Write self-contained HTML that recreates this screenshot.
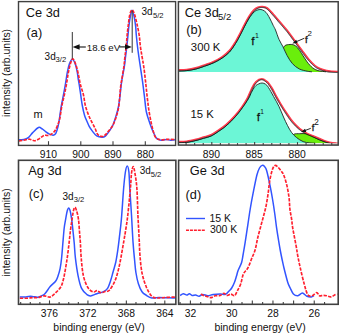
<!DOCTYPE html>
<html><head><meta charset="utf-8"><style>
html,body{margin:0;padding:0;background:#fff;}
svg{display:block;}
text{font-family:"Liberation Sans",sans-serif;fill:#111;}
</style></head><body>
<svg width="341" height="335" viewBox="0 0 341 335">
<defs>
<clipPath id="ca"><rect x="18.5" y="1.6" width="157" height="143.4"/></clipPath>
<clipPath id="cb"><rect x="178.4" y="1.7" width="159.8" height="143.4"/></clipPath>
<clipPath id="cc"><rect x="18.5" y="160.3" width="157.3" height="143.9"/></clipPath>
<clipPath id="cd"><rect x="178.6" y="160.3" width="159.6" height="143.9"/></clipPath>
</defs>
<rect width="341" height="335" fill="#fff"/>
<g clip-path="url(#cb)">
<path d="M276.00,71.80 C276.67,69.83 278.72,64.10 280.00,60.00 C281.28,55.90 282.30,49.77 283.70,47.20 C285.10,44.63 286.72,44.98 288.40,44.60 C290.08,44.22 292.23,44.33 293.80,44.90 C295.37,45.47 296.47,46.52 297.80,48.00 C299.13,49.48 300.23,51.47 301.80,53.80 C303.37,56.13 305.40,59.67 307.20,62.00 C309.00,64.33 310.80,66.37 312.60,67.80 C314.40,69.23 315.77,69.93 318.00,70.60 C320.23,71.27 324.67,71.60 326.00,71.80 L326.00,72.00 L276.00,72.00 Z" fill="#6aee0c" stroke="none"/>
<path d="M276.00,71.80 C276.67,69.83 278.72,64.10 280.00,60.00 C281.28,55.90 282.30,49.77 283.70,47.20 C285.10,44.63 286.72,44.98 288.40,44.60 C290.08,44.22 292.23,44.33 293.80,44.90 C295.37,45.47 296.47,46.52 297.80,48.00 C299.13,49.48 300.23,51.47 301.80,53.80 C303.37,56.13 305.40,59.67 307.20,62.00 C309.00,64.33 310.80,66.37 312.60,67.80 C314.40,69.23 315.77,69.93 318.00,70.60 C320.23,71.27 324.67,71.60 326.00,71.80" fill="none" stroke="#222" stroke-width="0.9"/>
<path d="M178.00,71.00 C179.47,70.93 183.87,70.92 186.80,70.60 C189.73,70.28 192.67,69.82 195.60,69.10 C198.53,68.38 201.47,67.32 204.40,66.30 C207.33,65.28 210.27,64.35 213.20,63.00 C216.13,61.65 219.28,60.03 222.00,58.20 C224.72,56.37 227.27,54.45 229.50,52.00 C231.73,49.55 233.67,46.28 235.40,43.50 C237.13,40.72 238.40,38.13 239.90,35.30 C241.40,32.47 242.90,29.30 244.40,26.50 C245.90,23.70 247.23,20.97 248.90,18.50 C250.57,16.03 252.70,13.18 254.40,11.70 C256.10,10.22 257.73,9.88 259.10,9.60 C260.47,9.32 261.43,9.52 262.60,10.00 C263.77,10.48 264.93,11.17 266.10,12.50 C267.27,13.83 268.42,15.85 269.60,18.00 C270.78,20.15 272.22,23.40 273.20,25.40 C274.18,27.40 274.53,27.67 275.50,30.00 C276.47,32.33 277.75,36.60 279.00,39.40 C280.25,42.20 281.65,44.12 283.00,46.80 C284.35,49.48 285.53,52.70 287.10,55.50 C288.67,58.30 290.38,61.37 292.40,63.60 C294.42,65.83 296.73,67.63 299.20,68.90 C301.67,70.17 305.07,70.72 307.20,71.20 C309.33,71.68 311.20,71.70 312.00,71.80 L312.00,72.00 L178.00,72.00 Z" fill="#6cf6d6" stroke="none"/>
<path d="M178.00,71.00 C179.47,70.93 183.87,70.92 186.80,70.60 C189.73,70.28 192.67,69.82 195.60,69.10 C198.53,68.38 201.47,67.32 204.40,66.30 C207.33,65.28 210.27,64.35 213.20,63.00 C216.13,61.65 219.28,60.03 222.00,58.20 C224.72,56.37 227.27,54.45 229.50,52.00 C231.73,49.55 233.67,46.28 235.40,43.50 C237.13,40.72 238.40,38.13 239.90,35.30 C241.40,32.47 242.90,29.30 244.40,26.50 C245.90,23.70 247.23,20.97 248.90,18.50 C250.57,16.03 252.70,13.18 254.40,11.70 C256.10,10.22 257.73,9.88 259.10,9.60 C260.47,9.32 261.43,9.52 262.60,10.00 C263.77,10.48 264.93,11.17 266.10,12.50 C267.27,13.83 268.42,15.85 269.60,18.00 C270.78,20.15 272.22,23.40 273.20,25.40 C274.18,27.40 274.53,27.67 275.50,30.00 C276.47,32.33 277.75,36.60 279.00,39.40 C280.25,42.20 281.65,44.12 283.00,46.80 C284.35,49.48 285.53,52.70 287.10,55.50 C288.67,58.30 290.38,61.37 292.40,63.60 C294.42,65.83 296.73,67.63 299.20,68.90 C301.67,70.17 305.07,70.72 307.20,71.20 C309.33,71.68 311.20,71.70 312.00,71.80" fill="none" stroke="#222" stroke-width="0.9"/>
<path d="M178.00,69.90 C179.47,69.83 183.87,69.83 186.80,69.50 C189.73,69.17 192.67,68.65 195.60,67.90 C198.53,67.15 201.47,66.03 204.40,65.00 C207.33,63.97 210.27,63.07 213.20,61.70 C216.13,60.33 219.28,58.70 222.00,56.80 C224.72,54.90 227.27,52.80 229.50,50.30 C231.73,47.80 233.67,44.58 235.40,41.80 C237.13,39.02 238.40,36.47 239.90,33.60 C241.40,30.73 242.90,27.47 244.40,24.60 C245.90,21.73 247.40,18.77 248.90,16.40 C250.40,14.03 251.92,11.92 253.40,10.40 C254.88,8.88 256.28,7.95 257.80,7.30 C259.32,6.65 260.92,6.38 262.50,6.50 C264.08,6.62 265.52,6.75 267.30,8.00 C269.08,9.25 271.25,11.87 273.20,14.00 C275.15,16.13 277.20,18.70 279.00,20.80 C280.80,22.90 282.42,24.73 284.00,26.60 C285.58,28.47 286.67,29.63 288.50,32.00 C290.33,34.37 292.78,37.80 295.00,40.80 C297.22,43.80 299.53,46.97 301.80,50.00 C304.07,53.03 306.40,56.42 308.60,59.00 C310.80,61.58 313.10,63.92 315.00,65.50 C316.90,67.08 318.07,67.65 320.00,68.50 C321.93,69.35 324.60,70.13 326.60,70.60 C328.60,71.07 330.10,71.15 332.00,71.30 C333.90,71.45 337.00,71.47 338.00,71.50" fill="none" stroke="#ff3a4c" stroke-width="1.6"/>
<path d="M178.04,70.90 L178.17,70.89 L178.31,70.89 L178.47,70.88 L178.64,70.88 L178.82,70.87 L179.01,70.87 L179.22,70.86 L179.44,70.86 L179.66,70.85 L179.90,70.85 L180.14,70.84 L180.39,70.84 L180.65,70.83 L180.91,70.83 L181.18,70.82 L181.46,70.81 L181.74,70.80 L182.02,70.80 L182.31,70.79 L182.60,70.78 L182.90,70.76 L183.19,70.75 L183.49,70.74 L183.78,70.73 L184.08,70.71 L184.38,70.70 L184.67,70.68 L184.96,70.66 L185.25,70.64 L185.54,70.62 L185.83,70.60 L186.10,70.57 L186.38,70.55 L186.65,70.52 L186.91,70.49 L187.17,70.46 L187.42,70.43 L187.68,70.40 L187.93,70.37 L188.19,70.34 L188.44,70.30 L188.70,70.27 L188.95,70.23 L189.21,70.20 L189.46,70.16 L189.72,70.12 L189.97,70.08 L190.23,70.04 L190.48,70.00 L190.74,69.95 L190.99,69.91 L191.25,69.86 L191.51,69.82 L191.76,69.77 L192.02,69.72 L192.27,69.67 L192.53,69.62 L192.78,69.57 L193.04,69.52 L193.29,69.47 L193.55,69.41 L193.80,69.35 L194.06,69.30 L194.31,69.24 L194.57,69.18 L194.83,69.12 L195.08,69.06 L195.34,69.00 L195.59,68.93 L195.85,68.87 L196.09,68.81 L196.34,68.74 L196.58,68.67 L196.82,68.61 L197.06,68.54 L197.31,68.47 L197.55,68.40 L197.79,68.32 L198.03,68.25 L198.28,68.18 L198.52,68.10 L198.76,68.02 L199.00,67.94 L199.24,67.87 L199.48,67.79 L199.72,67.71 L199.96,67.62 L200.20,67.54 L200.44,67.46 L200.68,67.38 L200.92,67.30 L201.16,67.21 L201.40,67.13 L201.64,67.04 L201.88,66.96 L202.12,66.87 L202.36,66.79 L202.60,66.70 L202.83,66.62 L203.07,66.53 L203.31,66.45 L203.55,66.36 L203.78,66.28 L204.02,66.19 L204.26,66.11 L204.50,66.03 L204.73,65.94 L204.97,65.86 L205.20,65.78 L205.44,65.70 L205.68,65.61 L205.91,65.53 L206.15,65.45 L206.39,65.37 L206.63,65.29 L206.86,65.21 L207.10,65.13 L207.34,65.04 L207.58,64.96 L207.82,64.88 L208.06,64.80 L208.30,64.71 L208.54,64.63 L208.78,64.54 L209.02,64.46 L209.26,64.37 L209.50,64.29 L209.74,64.20 L209.98,64.11 L210.22,64.02 L210.46,63.93 L210.70,63.84 L210.95,63.74 L211.19,63.65 L211.43,63.55 L211.67,63.45 L211.92,63.35 L212.16,63.25 L212.40,63.15 L212.65,63.04 L212.89,62.94 L213.13,62.83 L213.38,62.72 L213.62,62.61 L213.84,62.50 L214.07,62.40 L214.29,62.29 L214.52,62.18 L214.74,62.08 L214.97,61.97 L215.20,61.86 L215.42,61.75 L215.65,61.63 L215.88,61.52 L216.11,61.41 L216.33,61.29 L216.56,61.17 L216.79,61.06 L217.02,60.94 L217.25,60.82 L217.48,60.70 L217.70,60.57 L217.93,60.45 L218.16,60.33 L218.39,60.20 L218.62,60.08 L218.84,59.95 L219.07,59.82 L219.29,59.69 L219.52,59.56 L219.74,59.43 L219.97,59.30 L220.19,59.16 L220.41,59.03 L220.63,58.89 L220.85,58.76 L221.07,58.62 L221.29,58.48 L221.51,58.34 L221.72,58.20 L221.94,58.05 L222.15,57.91 L222.36,57.77 L222.57,57.62 L222.78,57.47 L223.00,57.32 L223.21,57.17 L223.42,57.02 L223.63,56.87 L223.84,56.71 L224.04,56.56 L224.25,56.40 L224.46,56.25 L224.66,56.09 L224.87,55.93 L225.07,55.77 L225.28,55.61 L225.48,55.45 L225.68,55.28 L225.88,55.12 L226.08,54.95 L226.28,54.79 L226.48,54.62 L226.68,54.45 L226.88,54.28 L227.07,54.11 L227.27,53.93 L227.46,53.76 L227.66,53.58 L227.85,53.41 L228.04,53.23 L228.23,53.05 L228.42,52.87 L228.61,52.68 L228.79,52.50 L228.98,52.31 L229.16,52.13 L229.35,51.94 L229.53,51.75 L229.71,51.55 L229.89,51.36 L230.07,51.16 L230.25,50.97 L230.42,50.77 L230.58,50.58 L230.75,50.38 L230.92,50.19 L231.08,49.99 L231.24,49.78 L231.40,49.58 L231.56,49.38 L231.72,49.17 L231.88,48.96 L232.04,48.75 L232.19,48.54 L232.35,48.33 L232.50,48.12 L232.65,47.90 L232.80,47.69 L232.95,47.47 L233.10,47.26 L233.25,47.04 L233.40,46.82 L233.54,46.60 L233.69,46.39 L233.83,46.17 L233.97,45.95 L234.11,45.73 L234.25,45.51 L234.39,45.30 L234.53,45.08 L234.67,44.86 L234.81,44.64 L234.94,44.43 L235.08,44.21 L235.21,44.00 L235.34,43.79 L235.48,43.57 L235.61,43.36 L235.74,43.15 L235.87,42.94 L235.99,42.74 L236.12,42.53 L236.25,42.33 L236.39,42.10 L236.53,41.87 L236.67,41.64 L236.80,41.42 L236.94,41.19 L237.07,40.97 L237.20,40.75 L237.33,40.52 L237.46,40.30 L237.59,40.08 L237.71,39.86 L237.84,39.63 L237.96,39.41 L238.08,39.19 L238.20,38.97 L238.32,38.75 L238.44,38.53 L238.56,38.31 L238.68,38.09 L238.79,37.87 L238.91,37.65 L239.03,37.43 L239.14,37.21 L239.26,36.99 L239.38,36.77 L239.49,36.55 L239.61,36.33 L239.72,36.11 L239.84,35.88 L239.96,35.66 L240.07,35.43 L240.19,35.21 L240.31,34.98 L240.43,34.75 L240.55,34.52 L240.67,34.29 L240.79,34.06 L240.90,33.85 L241.01,33.63 L241.13,33.41 L241.24,33.18 L241.35,32.96 L241.47,32.74 L241.58,32.51 L241.69,32.29 L241.81,32.06 L241.92,31.83 L242.03,31.61 L242.15,31.38 L242.26,31.15 L242.37,30.92 L242.49,30.69 L242.60,30.46 L242.71,30.23 L242.82,30.00 L242.94,29.77 L243.05,29.54 L243.16,29.31 L243.27,29.08 L243.39,28.85 L243.50,28.62 L243.61,28.39 L243.72,28.16 L243.83,27.94 L243.95,27.71 L244.06,27.48 L244.17,27.26 L244.28,27.03 L244.39,26.81 L244.51,26.59 L244.62,26.37 L244.73,26.15 L244.84,25.93 L244.95,25.71 L245.06,25.49 L245.17,25.28 L245.29,25.06 L245.41,24.83 L245.53,24.60 L245.65,24.36 L245.77,24.13 L245.90,23.90 L246.02,23.66 L246.14,23.43 L246.26,23.20 L246.38,22.96 L246.50,22.73 L246.62,22.50 L246.74,22.27 L246.87,22.04 L246.99,21.81 L247.11,21.58 L247.23,21.35 L247.35,21.12 L247.47,20.90 L247.59,20.67 L247.71,20.45 L247.83,20.23 L247.95,20.01 L248.07,19.79 L248.19,19.57 L248.31,19.36 L248.43,19.14 L248.55,18.93 L248.67,18.72 L248.79,18.51 L248.91,18.31 L249.03,18.10 L249.15,17.90 L249.27,17.70 L249.39,17.51 L249.51,17.31 L249.63,17.12 L249.74,16.93 L249.90,16.69 L250.05,16.46 L250.20,16.22 L250.36,15.98 L250.51,15.75 L250.66,15.52 L250.82,15.30 L250.97,15.07 L251.12,14.85 L251.28,14.63 L251.43,14.41 L251.58,14.20 L251.73,13.99 L251.88,13.78 L252.04,13.57 L252.19,13.37 L252.34,13.18 L252.49,12.98 L252.64,12.79 L252.79,12.60 L252.94,12.42 L253.09,12.24 L253.24,12.06 L253.38,11.89 L253.53,11.73 L253.68,11.56 L253.82,11.40 L253.97,11.25 L254.11,11.10 L254.31,10.90 L254.51,10.70 L254.71,10.52 L254.91,10.34 L255.10,10.17 L255.30,10.00 L255.49,9.85 L255.68,9.70 L255.87,9.55 L256.06,9.41 L256.25,9.28 L256.45,9.15 L256.64,9.03 L256.83,8.91 L257.02,8.80 L257.21,8.69 L257.41,8.59 L257.60,8.49 L257.80,8.40 L257.99,8.31 L258.19,8.22 L258.41,8.13 L258.63,8.04 L258.85,7.97 L259.07,7.89 L259.29,7.83 L259.51,7.77 L259.73,7.71 L259.96,7.66 L260.18,7.62 L260.40,7.58 L260.63,7.55 L260.85,7.52 L261.08,7.50 L261.30,7.49 L261.53,7.48 L261.75,7.47 L261.98,7.48 L262.20,7.48 L262.44,7.50 L262.66,7.51 L262.88,7.53 L263.11,7.55 L263.33,7.57 L263.54,7.60 L263.75,7.63 L263.96,7.66 L264.16,7.70 L264.37,7.74 L264.57,7.79 L264.77,7.85 L264.98,7.91 L265.18,7.99 L265.39,8.07 L265.60,8.16 L265.81,8.27 L266.03,8.38 L266.26,8.51 L266.49,8.66 L266.73,8.83 L266.88,8.93 L267.02,9.03 L267.17,9.15 L267.33,9.28 L267.48,9.41 L267.64,9.56 L267.81,9.70 L267.97,9.86 L268.14,10.01 L268.31,10.18 L268.49,10.35 L268.66,10.52 L268.83,10.70 L269.01,10.88 L269.19,11.07 L269.37,11.26 L269.55,11.45 L269.73,11.64 L269.91,11.84 L270.09,12.04 L270.27,12.24 L270.46,12.44 L270.64,12.65 L270.82,12.85 L271.01,13.06 L271.19,13.26 L271.37,13.47 L271.56,13.67 L271.74,13.87 L271.92,14.08 L272.10,14.28 L272.28,14.48 L272.46,14.67 L272.63,14.85 L272.79,15.04 L272.96,15.22 L273.12,15.41 L273.29,15.60 L273.46,15.79 L273.62,15.98 L273.79,16.17 L273.96,16.37 L274.13,16.56 L274.30,16.76 L274.47,16.96 L274.63,17.16 L274.80,17.36 L274.97,17.56 L275.14,17.75 L275.31,17.95 L275.47,18.15 L275.64,18.35 L275.81,18.55 L275.97,18.75 L276.14,18.95 L276.31,19.15 L276.47,19.35 L276.64,19.55 L276.80,19.74 L276.96,19.94 L277.13,20.13 L277.29,20.33 L277.45,20.52 L277.61,20.71 L277.77,20.90 L277.93,21.08 L278.08,21.27 L278.24,21.45 L278.42,21.66 L278.60,21.87 L278.78,22.07 L278.95,22.28 L279.13,22.48 L279.30,22.68 L279.48,22.88 L279.65,23.08 L279.82,23.28 L279.99,23.48 L280.16,23.67 L280.33,23.87 L280.49,24.06 L280.66,24.25 L280.83,24.44 L280.99,24.63 L281.15,24.82 L281.32,25.01 L281.48,25.20 L281.64,25.39 L281.80,25.57 L281.97,25.76 L282.13,25.95 L282.29,26.13 L282.45,26.32 L282.60,26.50 L282.76,26.69 L282.92,26.88 L283.08,27.06 L283.24,27.25 L283.41,27.45 L283.57,27.64 L283.73,27.83 L283.89,28.01 L284.05,28.20 L284.20,28.38 L284.36,28.55 L284.51,28.73 L284.66,28.90 L284.80,29.07 L284.95,29.24 L285.10,29.41 L285.25,29.59 L285.39,29.76 L285.54,29.94 L285.69,30.11 L285.84,30.29 L286.00,30.48 L286.15,30.66 L286.31,30.86 L286.47,31.05 L286.63,31.25 L286.80,31.46 L286.97,31.68 L287.15,31.90 L287.33,32.13 L287.52,32.37 L287.71,32.61 L287.84,32.78 L287.97,32.95 L288.10,33.12 L288.23,33.29 L288.37,33.47 L288.50,33.65 L288.64,33.84 L288.78,34.02 L288.92,34.21 L289.07,34.40 L289.21,34.60 L289.36,34.79 L289.50,34.99 L289.65,35.19 L289.80,35.40 L289.95,35.60 L290.11,35.81 L290.26,36.01 L290.41,36.22 L290.57,36.43 L290.72,36.65 L290.88,36.86 L291.03,37.07 L291.19,37.29 L291.35,37.50 L291.51,37.72 L291.66,37.94 L291.82,38.16 L291.98,38.37 L292.14,38.59 L292.30,38.81 L292.46,39.03 L292.62,39.25 L292.78,39.46 L292.94,39.68 L293.10,39.90 L293.25,40.11 L293.41,40.33 L293.57,40.54 L293.73,40.76 L293.88,40.97 L294.04,41.18 L294.20,41.39 L294.34,41.59 L294.49,41.79 L294.64,42.00 L294.79,42.20 L294.94,42.40 L295.09,42.60 L295.24,42.80 L295.39,43.01 L295.54,43.21 L295.69,43.41 L295.84,43.62 L295.99,43.82 L296.14,44.03 L296.29,44.23 L296.44,44.44 L296.59,44.64 L296.74,44.85 L296.89,45.05 L297.04,45.26 L297.20,45.47 L297.35,45.67 L297.50,45.88 L297.65,46.08 L297.80,46.29 L297.96,46.50 L298.11,46.70 L298.26,46.91 L298.41,47.12 L298.57,47.32 L298.72,47.53 L298.87,47.73 L299.02,47.94 L299.18,48.15 L299.33,48.35 L299.48,48.56 L299.63,48.76 L299.78,48.97 L299.94,49.17 L300.09,49.38 L300.24,49.58 L300.39,49.79 L300.54,49.99 L300.70,50.19 L300.85,50.40 L301.00,50.60 L301.15,50.80 L301.30,51.00 L301.45,51.21 L301.60,51.41 L301.75,51.62 L301.90,51.82 L302.06,52.03 L302.21,52.24 L302.36,52.44 L302.51,52.65 L302.66,52.86 L302.82,53.07 L302.97,53.28 L303.12,53.49 L303.27,53.70 L303.43,53.91 L303.58,54.12 L303.73,54.32 L303.88,54.53 L304.04,54.74 L304.19,54.95 L304.34,55.16 L304.50,55.37 L304.65,55.57 L304.80,55.78 L304.96,55.98 L305.11,56.19 L305.26,56.39 L305.41,56.60 L305.57,56.80 L305.72,57.00 L305.87,57.20 L306.02,57.40 L306.18,57.59 L306.33,57.79 L306.48,57.98 L306.63,58.17 L306.78,58.36 L306.93,58.55 L307.09,58.74 L307.24,58.93 L307.39,59.11 L307.54,59.29 L307.69,59.47 L307.84,59.65 L308.02,59.87 L308.21,60.08 L308.40,60.30 L308.59,60.51 L308.77,60.72 L308.96,60.93 L309.15,61.14 L309.34,61.35 L309.52,61.56 L309.71,61.76 L309.90,61.96 L310.08,62.17 L310.27,62.36 L310.46,62.56 L310.64,62.76 L310.83,62.95 L311.02,63.14 L311.20,63.33 L311.38,63.51 L311.57,63.70 L311.75,63.88 L311.93,64.06 L312.11,64.23 L312.29,64.41 L312.47,64.58 L312.65,64.75 L312.83,64.91 L313.00,65.07 L313.18,65.23 L313.35,65.39 L313.52,65.55 L313.69,65.70 L313.86,65.84 L314.03,65.99 L314.20,66.13 L314.36,66.27 L314.61,66.48 L314.86,66.67 L315.10,66.86 L315.33,67.04 L315.56,67.21 L315.79,67.37 L316.01,67.53 L316.23,67.67 L316.45,67.81 L316.66,67.95 L316.88,68.08 L317.09,68.20 L317.31,68.32 L317.52,68.44 L317.74,68.55 L317.96,68.66 L318.18,68.77 L318.41,68.88 L318.63,68.98 L318.87,69.09 L319.10,69.20 L319.35,69.31 L319.60,69.42 L319.83,69.51 L320.06,69.61 L320.30,69.71 L320.54,69.80 L320.79,69.90 L321.04,69.99 L321.29,70.08 L321.54,70.17 L321.80,70.26 L322.06,70.35 L322.32,70.44 L322.58,70.52 L322.85,70.61 L323.11,70.69 L323.37,70.77 L323.63,70.85 L323.90,70.92 L324.16,71.00 L324.41,71.07 L324.67,71.14 L324.93,71.21 L325.18,71.28 L325.42,71.34 L325.67,71.40 L325.91,71.46 L326.14,71.52 L326.38,71.57 L326.67,71.64 L326.95,71.70 L327.24,71.76 L327.51,71.81 L327.79,71.86 L328.06,71.90 L328.32,71.94 L328.58,71.98 L328.84,72.02 L329.10,72.05 L329.35,72.08 L329.60,72.10 L329.86,72.13 L330.11,72.15 L330.36,72.17 L330.62,72.19 L330.87,72.22 L331.13,72.24 L331.39,72.26 L331.65,72.28 L331.93,72.30 L332.17,72.32 L332.44,72.33 L332.71,72.35 L332.98,72.36 L333.27,72.38 L333.56,72.39 L333.85,72.40 L334.14,72.41 L334.44,72.42 L334.73,72.43 L335.03,72.44 L335.31,72.44 L335.60,72.45 L335.87,72.46 L336.14,72.46 L336.40,72.47 L336.65,72.47 L336.89,72.48 L337.11,72.48 L337.32,72.48 L337.51,72.49 L337.68,72.49 L337.84,72.50 L337.97,72.50" fill="none" stroke="#111" stroke-width="0.95"/>
<path d="M288.00,143.20 C288.50,142.33 290.00,139.50 291.00,138.00 C292.00,136.50 292.53,134.92 294.00,134.20 C295.47,133.48 297.75,133.77 299.80,133.70 C301.85,133.63 304.12,133.32 306.30,133.80 C308.48,134.28 310.70,135.58 312.90,136.60 C315.10,137.62 317.32,139.00 319.50,139.90 C321.68,140.80 324.08,141.50 326.00,142.00 C327.92,142.50 329.33,142.70 331.00,142.90 C332.67,143.10 335.17,143.15 336.00,143.20 L336.00,143.30 L288.00,143.30 Z" fill="#6aee0c" stroke="none"/>
<path d="M288.00,143.20 C288.50,142.33 290.00,139.50 291.00,138.00 C292.00,136.50 292.53,134.92 294.00,134.20 C295.47,133.48 297.75,133.77 299.80,133.70 C301.85,133.63 304.12,133.32 306.30,133.80 C308.48,134.28 310.70,135.58 312.90,136.60 C315.10,137.62 317.32,139.00 319.50,139.90 C321.68,140.80 324.08,141.50 326.00,142.00 C327.92,142.50 329.33,142.70 331.00,142.90 C332.67,143.10 335.17,143.15 336.00,143.20" fill="none" stroke="#222" stroke-width="0.9"/>
<path d="M178.00,142.80 C179.47,142.73 183.80,142.78 186.80,142.40 C189.80,142.02 193.22,141.17 196.00,140.50 C198.78,139.83 201.00,139.13 203.50,138.40 C206.00,137.67 208.50,137.27 211.00,136.10 C213.50,134.93 216.00,133.10 218.50,131.40 C221.00,129.70 223.25,128.32 226.00,125.90 C228.75,123.48 232.33,119.90 235.00,116.90 C237.67,113.90 239.72,111.02 242.00,107.90 C244.28,104.78 247.13,100.77 248.70,98.20 C250.27,95.63 250.35,94.45 251.40,92.50 C252.45,90.55 253.82,87.92 255.00,86.50 C256.18,85.08 257.32,84.58 258.50,84.00 C259.68,83.42 260.93,82.97 262.10,83.00 C263.27,83.03 264.45,83.47 265.50,84.20 C266.55,84.93 267.05,85.35 268.40,87.40 C269.75,89.45 271.83,93.32 273.60,96.50 C275.37,99.68 277.35,103.08 279.00,106.50 C280.65,109.92 282.08,113.83 283.50,117.00 C284.92,120.17 286.15,122.92 287.50,125.50 C288.85,128.08 290.10,130.50 291.60,132.50 C293.10,134.50 294.58,135.98 296.50,137.50 C298.42,139.02 300.92,140.70 303.10,141.60 C305.28,142.50 307.62,142.63 309.60,142.90 C311.58,143.17 314.10,143.15 315.00,143.20 L315.00,143.30 L178.00,143.30 Z" fill="#6cf6d6" stroke="none"/>
<path d="M178.00,142.80 C179.47,142.73 183.80,142.78 186.80,142.40 C189.80,142.02 193.22,141.17 196.00,140.50 C198.78,139.83 201.00,139.13 203.50,138.40 C206.00,137.67 208.50,137.27 211.00,136.10 C213.50,134.93 216.00,133.10 218.50,131.40 C221.00,129.70 223.25,128.32 226.00,125.90 C228.75,123.48 232.33,119.90 235.00,116.90 C237.67,113.90 239.72,111.02 242.00,107.90 C244.28,104.78 247.13,100.77 248.70,98.20 C250.27,95.63 250.35,94.45 251.40,92.50 C252.45,90.55 253.82,87.92 255.00,86.50 C256.18,85.08 257.32,84.58 258.50,84.00 C259.68,83.42 260.93,82.97 262.10,83.00 C263.27,83.03 264.45,83.47 265.50,84.20 C266.55,84.93 267.05,85.35 268.40,87.40 C269.75,89.45 271.83,93.32 273.60,96.50 C275.37,99.68 277.35,103.08 279.00,106.50 C280.65,109.92 282.08,113.83 283.50,117.00 C284.92,120.17 286.15,122.92 287.50,125.50 C288.85,128.08 290.10,130.50 291.60,132.50 C293.10,134.50 294.58,135.98 296.50,137.50 C298.42,139.02 300.92,140.70 303.10,141.60 C305.28,142.50 307.62,142.63 309.60,142.90 C311.58,143.17 314.10,143.15 315.00,143.20" fill="none" stroke="#222" stroke-width="0.9"/>
<path d="M178.00,141.60 C179.47,141.53 183.80,141.58 186.80,141.20 C189.80,140.82 193.22,139.98 196.00,139.30 C198.78,138.62 201.00,137.85 203.50,137.10 C206.00,136.35 208.50,135.97 211.00,134.80 C213.50,133.63 216.00,131.80 218.50,130.10 C221.00,128.40 223.25,127.02 226.00,124.60 C228.75,122.18 232.33,118.60 235.00,115.60 C237.67,112.60 240.02,109.38 242.00,106.60 C243.98,103.82 245.33,101.83 246.90,98.90 C248.47,95.97 249.92,91.83 251.40,89.00 C252.88,86.17 254.08,83.62 255.80,81.90 C257.52,80.18 259.75,78.70 261.70,78.70 C263.65,78.70 265.78,80.35 267.50,81.90 C269.22,83.45 270.55,85.68 272.00,88.00 C273.45,90.32 274.63,93.00 276.20,95.80 C277.77,98.60 279.63,101.88 281.40,104.80 C283.17,107.72 285.15,110.80 286.80,113.30 C288.45,115.80 289.85,117.92 291.30,119.80 C292.75,121.68 294.08,123.13 295.50,124.60 C296.92,126.07 298.00,127.22 299.80,128.60 C301.60,129.98 304.12,131.70 306.30,132.90 C308.48,134.10 310.70,134.85 312.90,135.80 C315.10,136.75 317.32,137.70 319.50,138.60 C321.68,139.50 323.82,140.48 326.00,141.20 C328.18,141.92 330.53,142.57 332.60,142.90 C334.67,143.23 337.43,143.15 338.40,143.20" fill="none" stroke="#ff3a4c" stroke-width="1.6"/>
<path d="M178.04,142.60 L178.17,142.59 L178.31,142.59 L178.46,142.58 L178.63,142.58 L178.81,142.58 L179.00,142.57 L179.21,142.57 L179.42,142.57 L179.65,142.56 L179.88,142.56 L180.12,142.55 L180.37,142.55 L180.62,142.55 L180.89,142.54 L181.16,142.54 L181.43,142.53 L181.71,142.52 L181.99,142.51 L182.28,142.51 L182.57,142.50 L182.87,142.49 L183.16,142.48 L183.46,142.46 L183.76,142.45 L184.05,142.43 L184.35,142.42 L184.65,142.40 L184.94,142.38 L185.24,142.36 L185.53,142.34 L185.82,142.31 L186.10,142.28 L186.38,142.26 L186.66,142.23 L186.92,142.19 L187.18,142.16 L187.43,142.12 L187.68,142.09 L187.94,142.05 L188.19,142.01 L188.45,141.97 L188.71,141.92 L188.97,141.88 L189.23,141.83 L189.48,141.79 L189.74,141.74 L190.00,141.69 L190.26,141.64 L190.52,141.58 L190.79,141.53 L191.04,141.48 L191.30,141.42 L191.56,141.37 L191.82,141.31 L192.08,141.26 L192.34,141.20 L192.59,141.14 L192.85,141.08 L193.10,141.02 L193.35,140.97 L193.61,140.91 L193.86,140.85 L194.10,140.79 L194.35,140.73 L194.59,140.67 L194.84,140.61 L195.08,140.56 L195.31,140.50 L195.55,140.44 L195.78,140.38 L196.01,140.33 L196.24,140.27 L196.51,140.20 L196.78,140.14 L197.04,140.07 L197.31,140.00 L197.57,139.93 L197.82,139.86 L198.08,139.79 L198.33,139.72 L198.58,139.65 L198.82,139.58 L199.07,139.51 L199.31,139.43 L199.55,139.36 L199.79,139.29 L200.03,139.22 L200.27,139.15 L200.50,139.07 L200.74,139.00 L200.97,138.93 L201.20,138.86 L201.44,138.78 L201.67,138.71 L201.90,138.64 L202.14,138.56 L202.37,138.49 L202.60,138.42 L202.84,138.35 L203.07,138.27 L203.31,138.20 L203.55,138.13 L203.78,138.06 L204.02,137.99 L204.26,137.92 L204.49,137.86 L204.73,137.79 L204.97,137.73 L205.20,137.66 L205.44,137.60 L205.68,137.54 L205.92,137.48 L206.17,137.42 L206.41,137.36 L206.65,137.30 L206.90,137.23 L207.14,137.17 L207.39,137.10 L207.63,137.04 L207.88,136.97 L208.13,136.90 L208.38,136.83 L208.63,136.75 L208.88,136.68 L209.13,136.60 L209.38,136.51 L209.64,136.43 L209.89,136.34 L210.14,136.24 L210.40,136.15 L210.65,136.04 L210.91,135.94 L211.17,135.82 L211.42,135.71 L211.65,135.60 L211.87,135.49 L212.10,135.38 L212.32,135.26 L212.54,135.14 L212.77,135.02 L212.99,134.90 L213.21,134.77 L213.43,134.65 L213.65,134.52 L213.87,134.38 L214.09,134.25 L214.31,134.11 L214.53,133.98 L214.75,133.84 L214.97,133.70 L215.19,133.56 L215.41,133.42 L215.62,133.27 L215.84,133.13 L216.06,132.98 L216.27,132.84 L216.49,132.69 L216.71,132.54 L216.92,132.40 L217.14,132.25 L217.35,132.10 L217.57,131.95 L217.78,131.81 L218.00,131.66 L218.21,131.51 L218.42,131.36 L218.64,131.22 L218.85,131.07 L219.06,130.93 L219.26,130.79 L219.46,130.66 L219.66,130.52 L219.86,130.39 L220.06,130.26 L220.26,130.12 L220.45,129.99 L220.65,129.86 L220.85,129.73 L221.05,129.59 L221.24,129.46 L221.44,129.33 L221.64,129.19 L221.84,129.06 L222.03,128.92 L222.23,128.79 L222.43,128.65 L222.63,128.51 L222.83,128.36 L223.04,128.22 L223.24,128.08 L223.44,127.93 L223.65,127.78 L223.85,127.62 L224.06,127.47 L224.27,127.31 L224.48,127.15 L224.69,126.99 L224.90,126.82 L225.11,126.65 L225.33,126.48 L225.55,126.30 L225.77,126.12 L225.99,125.93 L226.21,125.74 L226.43,125.55 L226.66,125.35 L226.83,125.20 L227.00,125.05 L227.17,124.90 L227.35,124.74 L227.52,124.58 L227.70,124.42 L227.88,124.26 L228.06,124.09 L228.24,123.92 L228.42,123.75 L228.60,123.58 L228.79,123.41 L228.97,123.23 L229.16,123.06 L229.34,122.88 L229.53,122.70 L229.72,122.52 L229.91,122.34 L230.10,122.15 L230.29,121.97 L230.48,121.78 L230.67,121.59 L230.86,121.40 L231.05,121.22 L231.24,121.03 L231.43,120.84 L231.62,120.64 L231.81,120.45 L232.00,120.26 L232.19,120.07 L232.37,119.87 L232.56,119.68 L232.75,119.49 L232.94,119.30 L233.12,119.10 L233.31,118.91 L233.49,118.72 L233.67,118.52 L233.85,118.33 L234.03,118.14 L234.21,117.95 L234.39,117.76 L234.57,117.57 L234.74,117.38 L234.91,117.19 L235.08,117.00 L235.25,116.82 L235.42,116.63 L235.58,116.45 L235.75,116.26 L235.93,116.06 L236.11,115.86 L236.28,115.65 L236.46,115.45 L236.64,115.24 L236.81,115.04 L236.99,114.83 L237.16,114.62 L237.33,114.42 L237.50,114.21 L237.67,114.00 L237.84,113.80 L238.01,113.59 L238.18,113.38 L238.34,113.18 L238.51,112.97 L238.67,112.76 L238.83,112.55 L238.99,112.35 L239.15,112.14 L239.31,111.94 L239.47,111.73 L239.63,111.52 L239.79,111.32 L239.94,111.11 L240.09,110.91 L240.25,110.71 L240.40,110.50 L240.55,110.30 L240.70,110.10 L240.85,109.90 L241.00,109.70 L241.14,109.50 L241.29,109.30 L241.43,109.10 L241.58,108.90 L241.72,108.71 L241.86,108.51 L242.00,108.32 L242.14,108.13 L242.27,107.93 L242.41,107.74 L242.55,107.56 L242.68,107.37 L242.81,107.18 L242.98,106.95 L243.14,106.72 L243.30,106.50 L243.46,106.28 L243.61,106.06 L243.76,105.84 L243.91,105.63 L244.06,105.41 L244.21,105.20 L244.35,104.99 L244.49,104.79 L244.63,104.58 L244.77,104.37 L244.91,104.17 L245.04,103.96 L245.18,103.76 L245.31,103.55 L245.45,103.35 L245.58,103.14 L245.71,102.94 L245.84,102.73 L245.97,102.52 L246.10,102.31 L246.23,102.10 L246.36,101.89 L246.49,101.67 L246.61,101.46 L246.74,101.24 L246.87,101.02 L247.00,100.79 L247.13,100.56 L247.26,100.33 L247.39,100.10 L247.52,99.86 L247.65,99.62 L247.78,99.37 L247.90,99.16 L248.01,98.94 L248.12,98.72 L248.23,98.49 L248.34,98.27 L248.45,98.04 L248.56,97.81 L248.67,97.58 L248.78,97.34 L248.89,97.10 L248.99,96.86 L249.10,96.62 L249.21,96.38 L249.31,96.14 L249.42,95.90 L249.53,95.65 L249.63,95.41 L249.74,95.16 L249.84,94.92 L249.95,94.67 L250.05,94.43 L250.15,94.18 L250.26,93.94 L250.36,93.69 L250.46,93.45 L250.57,93.21 L250.67,92.97 L250.77,92.73 L250.87,92.49 L250.98,92.26 L251.08,92.02 L251.18,91.79 L251.28,91.56 L251.38,91.34 L251.48,91.12 L251.59,90.90 L251.69,90.68 L251.79,90.47 L251.89,90.26 L251.99,90.05 L252.09,89.85 L252.19,89.66 L252.29,89.46 L252.42,89.20 L252.55,88.95 L252.69,88.69 L252.82,88.44 L252.95,88.19 L253.07,87.95 L253.20,87.70 L253.33,87.46 L253.45,87.22 L253.58,86.99 L253.70,86.75 L253.82,86.52 L253.95,86.30 L254.07,86.08 L254.19,85.86 L254.32,85.64 L254.44,85.43 L254.56,85.22 L254.69,85.02 L254.81,84.81 L254.93,84.62 L255.06,84.43 L255.19,84.24 L255.31,84.05 L255.44,83.87 L255.57,83.70 L255.70,83.53 L255.83,83.36 L255.96,83.20 L256.10,83.05 L256.23,82.90 L256.37,82.75 L256.51,82.61 L256.69,82.42 L256.89,82.24 L257.08,82.06 L257.28,81.88 L257.48,81.71 L257.69,81.54 L257.90,81.38 L258.10,81.22 L258.31,81.07 L258.53,80.92 L258.74,80.78 L258.95,80.65 L259.16,80.52 L259.37,80.41 L259.58,80.30 L259.79,80.19 L260.00,80.10 L260.20,80.02 L260.41,79.94 L260.60,79.88 L260.80,79.82 L260.99,79.78 L261.17,79.74 L261.35,79.72 L261.53,79.71 L261.70,79.70 L261.86,79.71 L262.03,79.72 L262.21,79.75 L262.38,79.78 L262.57,79.83 L262.76,79.89 L262.95,79.96 L263.15,80.04 L263.35,80.13 L263.55,80.23 L263.75,80.33 L263.96,80.45 L264.17,80.57 L264.38,80.70 L264.58,80.84 L264.79,80.99 L265.00,81.14 L265.21,81.29 L265.42,81.45 L265.63,81.61 L265.83,81.78 L266.04,81.95 L266.24,82.12 L266.44,82.29 L266.63,82.47 L266.83,82.64 L266.98,82.78 L267.14,82.93 L267.29,83.08 L267.44,83.24 L267.59,83.40 L267.74,83.57 L267.88,83.74 L268.03,83.91 L268.18,84.09 L268.32,84.27 L268.46,84.46 L268.61,84.65 L268.75,84.84 L268.89,85.04 L269.03,85.24 L269.17,85.44 L269.31,85.64 L269.45,85.85 L269.59,86.07 L269.73,86.28 L269.87,86.50 L270.01,86.71 L270.15,86.94 L270.29,87.16 L270.44,87.38 L270.58,87.61 L270.72,87.84 L270.86,88.07 L271.01,88.30 L271.15,88.53 L271.27,88.72 L271.39,88.92 L271.51,89.11 L271.62,89.31 L271.74,89.51 L271.86,89.72 L271.97,89.92 L272.08,90.13 L272.20,90.33 L272.31,90.54 L272.43,90.76 L272.54,90.97 L272.65,91.19 L272.77,91.40 L272.88,91.62 L273.00,91.84 L273.11,92.06 L273.22,92.29 L273.34,92.51 L273.46,92.74 L273.57,92.97 L273.69,93.20 L273.81,93.43 L273.93,93.66 L274.05,93.89 L274.17,94.13 L274.29,94.36 L274.42,94.60 L274.54,94.84 L274.67,95.08 L274.80,95.32 L274.93,95.56 L275.06,95.80 L275.19,96.04 L275.33,96.29 L275.44,96.49 L275.56,96.70 L275.68,96.91 L275.79,97.12 L275.91,97.33 L276.03,97.55 L276.16,97.76 L276.28,97.98 L276.40,98.20 L276.52,98.42 L276.65,98.63 L276.77,98.85 L276.90,99.08 L277.02,99.30 L277.15,99.52 L277.28,99.74 L277.41,99.97 L277.54,100.19 L277.66,100.42 L277.79,100.64 L277.92,100.87 L278.05,101.09 L278.18,101.32 L278.31,101.54 L278.44,101.77 L278.58,102.00 L278.71,102.22 L278.84,102.45 L278.97,102.67 L279.10,102.90 L279.23,103.12 L279.37,103.34 L279.50,103.57 L279.63,103.79 L279.76,104.01 L279.89,104.23 L280.02,104.45 L280.15,104.67 L280.28,104.89 L280.41,105.10 L280.54,105.32 L280.68,105.54 L280.81,105.76 L280.95,105.98 L281.08,106.20 L281.22,106.42 L281.36,106.65 L281.49,106.87 L281.63,107.09 L281.77,107.31 L281.91,107.54 L282.05,107.76 L282.19,107.98 L282.33,108.20 L282.46,108.42 L282.60,108.65 L282.74,108.87 L282.88,109.09 L283.02,109.31 L283.16,109.53 L283.30,109.74 L283.44,109.96 L283.58,110.18 L283.72,110.39 L283.85,110.61 L283.99,110.82 L284.13,111.03 L284.26,111.25 L284.40,111.46 L284.54,111.66 L284.67,111.87 L284.80,112.08 L284.94,112.28 L285.07,112.48 L285.20,112.69 L285.33,112.88 L285.46,113.08 L285.59,113.28 L285.71,113.47 L285.84,113.66 L285.97,113.85 L286.12,114.09 L286.28,114.33 L286.44,114.57 L286.59,114.80 L286.75,115.03 L286.90,115.26 L287.05,115.49 L287.20,115.72 L287.35,115.94 L287.50,116.16 L287.65,116.38 L287.79,116.60 L287.94,116.81 L288.08,117.03 L288.23,117.24 L288.37,117.45 L288.52,117.66 L288.66,117.87 L288.80,118.07 L288.94,118.28 L289.09,118.48 L289.23,118.68 L289.37,118.88 L289.51,119.07 L289.65,119.27 L289.80,119.46 L289.94,119.65 L290.08,119.85 L290.22,120.04 L290.36,120.22 L290.51,120.41 L290.68,120.64 L290.86,120.86 L291.04,121.08 L291.21,121.30 L291.38,121.51 L291.56,121.72 L291.73,121.93 L291.90,122.13 L292.07,122.34 L292.24,122.53 L292.41,122.73 L292.58,122.92 L292.75,123.11 L292.92,123.30 L293.09,123.49 L293.25,123.68 L293.42,123.86 L293.59,124.04 L293.76,124.22 L293.93,124.40 L294.10,124.58 L294.27,124.76 L294.44,124.94 L294.61,125.12 L294.78,125.29 L294.96,125.48 L295.14,125.67 L295.32,125.85 L295.50,126.04 L295.67,126.22 L295.85,126.39 L296.02,126.57 L296.19,126.75 L296.37,126.92 L296.55,127.09 L296.73,127.27 L296.91,127.44 L297.09,127.61 L297.28,127.79 L297.47,127.96 L297.66,128.14 L297.86,128.31 L298.07,128.49 L298.28,128.66 L298.50,128.84 L298.72,129.03 L298.95,129.21 L299.19,129.39 L299.37,129.53 L299.56,129.67 L299.74,129.81 L299.94,129.95 L300.13,130.10 L300.33,130.24 L300.53,130.39 L300.74,130.54 L300.95,130.68 L301.16,130.83 L301.37,130.98 L301.58,131.13 L301.80,131.28 L302.02,131.43 L302.24,131.58 L302.46,131.72 L302.69,131.87 L302.91,132.02 L303.13,132.16 L303.36,132.31 L303.58,132.45 L303.81,132.59 L304.04,132.73 L304.26,132.87 L304.49,133.01 L304.71,133.14 L304.94,133.27 L305.16,133.40 L305.38,133.53 L305.60,133.66 L305.82,133.78 L306.06,133.91 L306.31,134.04 L306.55,134.16 L306.79,134.28 L307.04,134.40 L307.28,134.52 L307.52,134.63 L307.77,134.74 L308.01,134.85 L308.25,134.96 L308.49,135.06 L308.73,135.17 L308.97,135.27 L309.21,135.37 L309.45,135.47 L309.69,135.56 L309.93,135.66 L310.16,135.76 L310.40,135.85 L310.64,135.95 L310.87,136.04 L311.11,136.14 L311.34,136.23 L311.58,136.33 L311.81,136.42 L312.04,136.52 L312.27,136.62 L312.51,136.72 L312.74,136.82 L312.98,136.92 L313.21,137.02 L313.45,137.13 L313.68,137.23 L313.92,137.33 L314.16,137.43 L314.39,137.53 L314.63,137.63 L314.87,137.73 L315.10,137.84 L315.34,137.94 L315.58,138.04 L315.81,138.14 L316.05,138.24 L316.29,138.34 L316.52,138.44 L316.76,138.54 L317.00,138.64 L317.23,138.74 L317.47,138.84 L317.71,138.94 L317.94,139.04 L318.18,139.13 L318.41,139.23 L318.65,139.33 L318.88,139.43 L319.12,139.52 L319.35,139.62 L319.58,139.72 L319.81,139.81 L320.04,139.91 L320.28,140.01 L320.51,140.11 L320.74,140.21 L320.97,140.30 L321.20,140.40 L321.43,140.50 L321.67,140.60 L321.90,140.70 L322.13,140.80 L322.37,140.89 L322.60,140.99 L322.83,141.09 L323.07,141.18 L323.30,141.27 L323.54,141.37 L323.78,141.46 L324.01,141.55 L324.25,141.64 L324.49,141.73 L324.73,141.82 L324.97,141.90 L325.21,141.99 L325.45,142.07 L325.69,142.15 L325.93,142.23 L326.18,142.31 L326.43,142.39 L326.68,142.47 L326.93,142.55 L327.19,142.62 L327.44,142.70 L327.69,142.77 L327.95,142.85 L328.20,142.92 L328.45,142.99 L328.71,143.06 L328.96,143.13 L329.22,143.19 L329.47,143.26 L329.72,143.32 L329.98,143.38 L330.23,143.44 L330.48,143.50 L330.73,143.56 L330.98,143.61 L331.22,143.66 L331.47,143.71 L331.72,143.76 L331.96,143.81 L332.20,143.85 L332.45,143.89 L332.74,143.93 L333.03,143.97 L333.33,144.00 L333.64,144.03 L333.94,144.06 L334.25,144.08 L334.55,144.10 L334.86,144.12 L335.16,144.13 L335.45,144.14 L335.74,144.15 L336.03,144.16 L336.30,144.17 L336.57,144.17 L336.83,144.17 L337.08,144.18 L337.31,144.18 L337.53,144.18 L337.73,144.18 L337.92,144.19 L338.08,144.19 L338.23,144.19 L338.36,144.20" fill="none" stroke="#111" stroke-width="0.95"/>
<line x1="178" y1="143.9" x2="338" y2="143.9" stroke="#f2f2ee" stroke-width="1.2"/>
</g>
<line x1="295.98" y1="41.82" x2="304.20" y2="38.30" stroke="#111" stroke-width="0.90"/>
<polygon points="292.30,43.40 297.57,42.99 296.23,39.87" fill="#111"/>
<line x1="304.73" y1="130.65" x2="310.80" y2="128.30" stroke="#111" stroke-width="0.90"/>
<polygon points="301.00,132.10 306.28,131.88 305.05,128.71" fill="#111"/>
<g clip-path="url(#ca)">
<path d="M18.80,139.70 C19.65,139.68 22.32,139.93 23.90,139.60 C25.48,139.27 26.83,138.87 28.30,137.70 C29.77,136.53 31.00,134.30 32.70,132.60 C34.40,130.90 36.92,128.12 38.50,127.50 C40.08,126.88 40.97,128.17 42.20,128.90 C43.43,129.63 44.68,131.03 45.90,131.90 C47.12,132.77 48.28,133.55 49.50,134.10 C50.72,134.65 52.15,135.33 53.20,135.20 C54.25,135.07 54.95,134.95 55.80,133.30 C56.65,131.65 57.67,127.93 58.30,125.30 C58.93,122.67 59.08,120.80 59.60,117.50 C60.12,114.20 60.75,109.30 61.40,105.50 C62.05,101.70 62.85,98.15 63.50,94.70 C64.15,91.25 64.83,87.50 65.30,84.80 C65.77,82.10 65.92,80.77 66.30,78.50 C66.67,76.23 67.02,73.68 67.55,71.20 C68.08,68.72 68.71,65.59 69.50,63.60 C70.29,61.61 71.35,59.25 72.30,59.25 C73.25,59.25 74.40,61.61 75.20,63.60 C76.00,65.59 76.60,68.67 77.10,71.20 C77.60,73.73 77.87,76.67 78.20,78.80 C78.53,80.93 78.68,81.35 79.10,84.00 C79.52,86.65 80.17,91.12 80.70,94.70 C81.23,98.28 81.65,102.03 82.30,105.50 C82.95,108.97 83.88,113.00 84.60,115.50 C85.32,118.00 85.83,118.70 86.60,120.50 C87.37,122.30 88.23,124.53 89.20,126.30 C90.17,128.07 91.15,129.50 92.40,131.10 C93.65,132.70 95.08,134.88 96.70,135.90 C98.32,136.92 100.67,137.17 102.10,137.20 C103.53,137.23 104.05,137.20 105.30,136.10 C106.55,135.00 108.33,132.42 109.60,130.60 C110.87,128.78 111.92,127.35 112.90,125.20 C113.88,123.05 114.62,120.57 115.50,117.70 C116.38,114.83 117.47,111.45 118.20,108.00 C118.93,104.55 119.33,101.35 119.90,97.00 C120.47,92.65 120.87,86.90 121.60,81.90 C122.33,76.90 123.65,71.15 124.30,67.00 C124.95,62.85 125.08,60.42 125.50,57.00 C125.92,53.58 126.38,50.17 126.80,46.50 C127.22,42.83 127.65,38.42 128.00,35.00 C128.35,31.58 128.52,29.08 128.90,26.00 C129.28,22.92 129.78,19.13 130.30,16.50 C130.83,13.87 131.42,10.20 132.05,10.20 C132.68,10.20 133.51,13.87 134.10,16.50 C134.69,19.13 135.23,22.92 135.60,26.00 C135.97,29.08 135.98,31.58 136.30,35.00 C136.62,38.42 137.07,42.83 137.50,46.50 C137.93,50.17 138.42,53.58 138.90,57.00 C139.38,60.42 139.78,62.85 140.40,67.00 C141.02,71.15 141.92,76.90 142.60,81.90 C143.28,86.90 143.87,91.98 144.50,97.00 C145.13,102.02 145.48,107.55 146.40,112.00 C147.32,116.45 148.95,120.57 150.00,123.70 C151.05,126.83 151.65,128.42 152.70,130.80 C153.75,133.18 154.95,136.43 156.30,138.00 C157.65,139.57 159.52,139.90 160.80,140.20 C162.08,140.50 162.97,139.92 164.00,139.80 C165.03,139.68 165.92,139.42 167.00,139.50 C168.08,139.58 169.45,140.23 170.50,140.30 C171.55,140.37 172.55,140.02 173.30,139.90 C174.05,139.78 174.72,139.65 175.00,139.60" fill="none" stroke="#3254ff" stroke-width="1.5" stroke-linejoin="round"/>
<path d="M18.80,141.00 C19.88,140.82 23.48,140.20 25.30,139.90 C27.12,139.60 28.23,139.07 29.70,139.20 C31.17,139.33 32.75,140.63 34.10,140.70 C35.45,140.77 36.57,140.22 37.80,139.60 C39.03,138.98 40.40,137.73 41.50,137.00 C42.60,136.27 43.43,135.45 44.40,135.20 C45.37,134.95 46.20,135.63 47.30,135.50 C48.40,135.37 49.77,135.13 51.00,134.40 C52.23,133.67 53.60,132.62 54.70,131.10 C55.80,129.58 56.75,127.42 57.60,125.30 C58.45,123.18 59.08,121.70 59.80,118.40 C60.52,115.10 61.13,109.45 61.90,105.50 C62.67,101.55 63.63,98.28 64.40,94.70 C65.17,91.12 65.87,87.53 66.50,84.00 C67.13,80.47 67.58,76.75 68.20,73.50 C68.82,70.25 69.43,66.95 70.20,64.50 C70.97,62.05 71.82,58.63 72.80,58.80 C73.78,58.97 75.15,62.80 76.10,65.50 C77.05,68.20 77.80,71.87 78.50,75.00 C79.20,78.13 79.48,81.02 80.30,84.30 C81.12,87.58 82.52,91.00 83.40,94.70 C84.28,98.40 84.50,102.53 85.60,106.50 C86.70,110.47 88.50,115.03 90.00,118.50 C91.50,121.97 93.30,124.63 94.60,127.30 C95.90,129.97 96.55,132.97 97.80,134.50 C99.05,136.03 100.85,136.43 102.10,136.50 C103.35,136.57 104.22,135.80 105.30,134.90 C106.38,134.00 107.33,132.72 108.60,131.10 C109.87,129.48 111.57,127.80 112.90,125.20 C114.23,122.60 115.62,118.70 116.60,115.50 C117.58,112.30 118.15,110.58 118.80,106.00 C119.45,101.42 120.02,92.33 120.50,88.00 C120.98,83.67 121.13,83.58 121.70,80.00 C122.27,76.42 123.37,70.33 123.90,66.50 C124.43,62.67 124.52,60.33 124.90,57.00 C125.28,53.67 125.82,50.23 126.20,46.50 C126.58,42.77 126.83,38.33 127.20,34.60 C127.57,30.87 127.97,27.43 128.40,24.10 C128.83,20.77 129.18,16.98 129.80,14.60 C130.42,12.22 131.30,9.80 132.10,9.80 C132.90,9.80 133.78,12.22 134.60,14.60 C135.42,16.98 136.23,20.65 137.00,24.10 C137.77,27.55 138.63,31.57 139.20,35.30 C139.77,39.03 139.92,42.88 140.40,46.50 C140.88,50.12 141.53,53.58 142.10,57.00 C142.67,60.42 143.22,62.85 143.80,67.00 C144.38,71.15 145.03,76.90 145.60,81.90 C146.17,86.90 146.62,92.07 147.20,97.00 C147.78,101.93 148.33,106.77 149.10,111.50 C149.87,116.23 150.75,121.13 151.80,125.40 C152.85,129.67 153.90,134.70 155.40,137.10 C156.90,139.50 158.87,139.42 160.80,139.80 C162.73,140.18 164.63,139.45 167.00,139.40 C169.37,139.35 173.67,139.48 175.00,139.50" fill="none" stroke="#ff1f2e" stroke-width="1.65" stroke-dasharray="3.4,1.3"/>
</g>
<line x1="72.3" y1="32" x2="72.3" y2="58.5" stroke="#333" stroke-width="1.0"/>
<line x1="132.2" y1="10.5" x2="132.2" y2="52.8" stroke="#333" stroke-width="1.0"/>
<line x1="77" y1="47.0" x2="85.8" y2="47.0" stroke="#111" stroke-width="1.1"/>
<polygon points="72.6,47.0 79.6,44.3 79.6,49.7" fill="#111"/>
<line x1="119.2" y1="46.9" x2="127" y2="46.9" stroke="#111" stroke-width="1.1"/>
<polygon points="131.9,46.9 125.0,44.2 125.0,49.6" fill="#111"/>
<g clip-path="url(#cc)">
<path d="M19.80,297.00 C20.70,297.00 23.75,297.10 25.20,297.00 C26.65,296.90 27.32,296.50 28.50,296.40 C29.68,296.30 30.77,296.25 32.30,296.40 C33.83,296.55 36.17,297.40 37.70,297.30 C39.23,297.20 40.30,296.40 41.50,295.80 C42.70,295.20 43.45,295.23 44.90,293.70 C46.35,292.17 48.42,288.68 50.20,286.60 C51.98,284.52 54.30,282.97 55.60,281.20 C56.90,279.43 57.25,278.08 58.00,276.00 C58.75,273.92 59.50,271.70 60.10,268.70 C60.70,265.70 61.15,262.12 61.60,258.00 C62.05,253.88 62.37,249.00 62.80,244.00 C63.23,239.00 63.72,232.18 64.20,228.00 C64.68,223.82 65.20,221.73 65.70,218.90 C66.20,216.07 66.70,212.83 67.20,211.00 C67.70,209.17 68.20,207.90 68.70,207.90 C69.20,207.90 69.72,209.17 70.20,211.00 C70.68,212.83 71.13,215.57 71.60,218.90 C72.07,222.23 72.57,227.02 73.00,231.00 C73.43,234.98 73.80,238.32 74.20,242.80 C74.60,247.28 74.75,252.40 75.40,257.90 C76.05,263.40 77.07,270.72 78.10,275.80 C79.13,280.88 80.12,285.27 81.60,288.40 C83.08,291.53 85.50,293.35 87.00,294.60 C88.50,295.85 88.95,296.05 90.60,295.90 C92.25,295.75 94.82,294.37 96.90,293.70 C98.98,293.03 101.32,292.78 103.10,291.90 C104.88,291.02 106.37,290.22 107.60,288.40 C108.83,286.58 109.60,283.70 110.50,281.00 C111.40,278.30 112.12,275.37 113.00,272.20 C113.88,269.03 115.00,265.70 115.80,262.00 C116.60,258.30 117.22,254.00 117.80,250.00 C118.38,246.00 118.70,243.15 119.30,238.00 C119.90,232.85 120.68,227.32 121.40,219.10 C122.12,210.88 122.93,196.55 123.60,188.70 C124.27,180.85 124.80,175.80 125.40,172.00 C126.00,168.20 126.62,165.90 127.20,165.90 C127.78,165.90 128.47,168.20 128.90,172.00 C129.33,175.80 129.37,181.53 129.80,188.70 C130.23,195.87 130.97,206.13 131.50,215.00 C132.03,223.87 132.50,234.57 133.00,241.90 C133.50,249.23 134.02,253.90 134.50,259.00 C134.98,264.10 135.25,268.38 135.90,272.50 C136.55,276.62 137.38,280.50 138.40,283.70 C139.42,286.90 140.67,289.77 142.00,291.70 C143.33,293.63 144.77,294.25 146.40,295.30 C148.03,296.35 149.70,297.62 151.80,298.00 C153.90,298.38 156.63,297.63 159.00,297.60 C161.37,297.57 163.62,297.73 166.00,297.80 C168.38,297.87 171.72,298.00 173.30,298.00 C174.88,298.00 175.13,297.83 175.50,297.80" fill="none" stroke="#3254ff" stroke-width="1.5" stroke-linejoin="round"/>
<path d="M19.80,298.20 C21.00,298.20 24.80,298.30 27.00,298.20 C29.20,298.10 31.22,297.68 33.00,297.60 C34.78,297.52 35.87,297.98 37.70,297.70 C39.53,297.42 41.92,296.02 44.00,295.90 C46.08,295.78 48.27,297.52 50.20,297.00 C52.13,296.48 53.80,294.53 55.60,292.80 C57.40,291.07 59.68,288.90 61.00,286.60 C62.32,284.30 62.75,281.98 63.50,279.00 C64.25,276.02 64.87,272.32 65.50,268.70 C66.13,265.08 66.70,261.62 67.30,257.30 C67.90,252.98 68.57,247.35 69.10,242.80 C69.63,238.25 70.00,233.98 70.50,230.00 C71.00,226.02 71.60,222.15 72.10,218.90 C72.60,215.65 73.03,212.43 73.50,210.50 C73.97,208.57 74.40,207.30 74.90,207.30 C75.40,207.30 75.92,208.57 76.50,210.50 C77.08,212.43 77.88,215.15 78.40,218.90 C78.92,222.65 79.27,228.98 79.60,233.00 C79.93,237.02 80.13,238.85 80.40,243.00 C80.67,247.15 80.70,252.43 81.20,257.90 C81.70,263.37 82.28,270.87 83.40,275.80 C84.52,280.73 86.25,284.82 87.90,287.50 C89.55,290.18 91.80,291.37 93.30,291.90 C94.80,292.43 95.57,290.55 96.90,290.70 C98.23,290.85 99.95,292.67 101.30,292.80 C102.65,292.93 103.65,291.93 105.00,291.50 C106.35,291.07 107.77,291.92 109.40,290.20 C111.03,288.48 113.40,284.23 114.80,281.20 C116.20,278.17 116.90,275.28 117.80,272.00 C118.70,268.72 119.22,266.53 120.20,261.50 C121.18,256.47 122.73,247.38 123.70,241.80 C124.67,236.22 125.32,232.47 126.00,228.00 C126.68,223.53 127.07,221.55 127.80,215.00 C128.53,208.45 129.78,195.62 130.40,188.70 C131.02,181.78 131.03,177.18 131.50,173.50 C131.97,169.82 132.62,166.60 133.20,166.60 C133.78,166.60 134.38,169.82 135.00,173.50 C135.62,177.18 136.42,181.78 136.90,188.70 C137.38,195.62 137.60,208.12 137.90,215.00 C138.20,221.88 138.47,225.52 138.70,230.00 C138.93,234.48 139.08,237.57 139.30,241.90 C139.52,246.23 139.55,250.83 140.00,256.00 C140.45,261.17 140.93,267.70 142.00,272.90 C143.07,278.10 144.77,283.32 146.40,287.20 C148.03,291.08 150.00,294.40 151.80,296.20 C153.60,298.00 155.00,297.78 157.20,298.00 C159.40,298.22 162.32,297.65 165.00,297.50 C167.68,297.35 171.55,297.13 173.30,297.10 C175.05,297.07 175.13,297.27 175.50,297.30" fill="none" stroke="#ff1f2e" stroke-width="1.65" stroke-dasharray="3.4,1.3"/>
</g>
<g clip-path="url(#cd)">
<path d="M180.10,295.50 C180.63,295.20 182.18,293.78 183.30,293.70 C184.42,293.62 185.78,295.00 186.80,295.00 C187.82,295.00 188.52,293.62 189.40,293.70 C190.28,293.78 191.07,295.28 192.10,295.50 C193.13,295.72 194.43,294.88 195.60,295.00 C196.77,295.12 197.93,296.30 199.10,296.20 C200.27,296.10 201.13,294.47 202.60,294.40 C204.07,294.33 206.13,295.80 207.90,295.80 C209.67,295.80 211.15,294.68 213.20,294.40 C215.25,294.12 218.15,294.10 220.20,294.10 C222.25,294.10 224.03,294.92 225.50,294.40 C226.97,293.88 227.97,292.07 229.00,291.00 C230.03,289.93 230.78,289.47 231.70,288.00 C232.62,286.53 233.70,284.20 234.50,282.20 C235.30,280.20 235.90,277.95 236.50,276.00 C237.10,274.05 237.25,272.75 238.10,270.50 C238.95,268.25 240.75,265.25 241.60,262.50 C242.45,259.75 242.60,257.38 243.20,254.00 C243.80,250.62 244.42,247.15 245.20,242.20 C245.98,237.25 247.05,229.92 247.90,224.30 C248.75,218.68 249.40,213.85 250.30,208.50 C251.20,203.15 252.20,197.78 253.30,192.20 C254.40,186.62 255.87,179.03 256.90,175.00 C257.93,170.97 258.62,169.60 259.50,168.00 C260.38,166.40 261.37,165.65 262.20,165.40 C263.03,165.15 263.75,165.62 264.50,166.50 C265.25,167.38 265.73,167.30 266.70,170.70 C267.67,174.10 269.25,181.68 270.30,186.90 C271.35,192.12 272.25,197.48 273.00,202.00 C273.75,206.52 274.20,209.68 274.80,214.00 C275.40,218.32 275.98,223.57 276.60,227.90 C277.22,232.23 277.90,236.32 278.50,240.00 C279.10,243.68 279.58,246.67 280.20,250.00 C280.82,253.33 281.55,256.92 282.20,260.00 C282.85,263.08 283.18,264.80 284.10,268.50 C285.02,272.20 286.72,279.02 287.70,282.20 C288.68,285.38 289.05,285.65 290.00,287.60 C290.95,289.55 292.08,292.55 293.40,293.90 C294.72,295.25 296.40,295.85 297.90,295.70 C299.40,295.55 300.90,292.92 302.40,293.00 C303.90,293.08 305.42,295.55 306.90,296.20 C308.38,296.85 310.12,296.98 311.30,296.90 C312.48,296.82 313.55,295.90 314.00,295.70" fill="none" stroke="#3254ff" stroke-width="1.5" stroke-linejoin="round"/>
<path d="M200.90,294.10 C201.48,294.38 203.23,295.37 204.40,295.80 C205.57,296.23 206.73,296.40 207.90,296.70 C209.07,297.00 210.22,297.75 211.40,297.60 C212.58,297.45 213.53,296.15 215.00,295.80 C216.47,295.45 218.73,295.93 220.20,295.50 C221.67,295.07 222.62,293.20 223.80,293.20 C224.98,293.20 226.13,295.35 227.30,295.50 C228.47,295.65 229.60,294.07 230.80,294.10 C232.00,294.13 233.43,296.18 234.50,295.70 C235.57,295.22 236.17,293.15 237.20,291.20 C238.23,289.25 239.67,286.87 240.70,284.00 C241.73,281.13 242.20,276.68 243.40,274.00 C244.60,271.32 246.55,270.40 247.90,267.90 C249.25,265.40 250.30,261.98 251.50,259.00 C252.70,256.02 254.05,253.58 255.10,250.00 C256.15,246.42 256.77,241.78 257.80,237.50 C258.83,233.22 260.32,227.97 261.30,224.30 C262.28,220.63 262.90,218.58 263.70,215.50 C264.50,212.42 265.35,209.55 266.10,205.80 C266.85,202.05 267.62,197.05 268.20,193.00 C268.78,188.95 269.00,185.08 269.60,181.50 C270.20,177.92 271.15,173.92 271.80,171.50 C272.45,169.08 272.90,168.02 273.50,167.00 C274.10,165.98 274.68,165.40 275.40,165.40 C276.12,165.40 276.97,166.23 277.80,167.00 C278.63,167.77 279.65,169.08 280.40,170.00 C281.15,170.92 281.70,171.53 282.30,172.50 C282.90,173.47 283.25,173.70 284.00,175.80 C284.75,177.90 285.97,181.53 286.80,185.10 C287.63,188.67 288.48,193.22 289.00,197.20 C289.52,201.18 289.47,205.35 289.90,209.00 C290.33,212.65 291.12,215.85 291.60,219.10 C292.08,222.35 292.05,224.05 292.80,228.50 C293.55,232.95 295.27,241.22 296.10,245.80 C296.93,250.38 297.10,252.30 297.80,256.00 C298.50,259.70 299.23,263.33 300.30,268.00 C301.37,272.67 302.95,279.53 304.20,284.00 C305.45,288.47 306.47,292.85 307.80,294.80 C309.13,296.75 310.72,296.07 312.20,295.70 C313.68,295.33 315.50,292.60 316.70,292.60 C317.90,292.60 318.35,295.23 319.40,295.70 C320.45,296.17 321.80,295.40 323.00,295.40 C324.20,295.40 325.27,295.45 326.60,295.70 C327.93,295.95 329.52,297.12 331.00,296.90 C332.48,296.68 334.42,294.88 335.50,294.40 C336.58,293.92 337.17,294.07 337.50,294.00" fill="none" stroke="#ff1f2e" stroke-width="1.65" stroke-dasharray="3.4,1.3"/>
</g>
<line x1="186.0" y1="218.5" x2="205.0" y2="218.5" stroke="#3254ff" stroke-width="1.4"/>
<line x1="186.0" y1="230.2" x2="205.2" y2="230.2" stroke="#ff1f2e" stroke-width="1.65" stroke-dasharray="3,0.95"/>
<rect x="18.5" y="1.6" width="157.1" height="143.8" fill="none" stroke="#404040" stroke-width="1.4"/>
<rect x="178.4" y="1.7" width="159.8" height="143.4" fill="none" stroke="#404040" stroke-width="1.5"/>
<rect x="18.5" y="160.3" width="157.35" height="144.0" fill="none" stroke="#404040" stroke-width="1.6"/>
<rect x="178.6" y="160.3" width="159.6" height="144.0" fill="none" stroke="#404040" stroke-width="1.6"/>
<line x1="48.50" y1="145.40" x2="48.50" y2="141.20" stroke="#404040" stroke-width="1.1"/>
<line x1="80.80" y1="145.40" x2="80.80" y2="141.20" stroke="#404040" stroke-width="1.1"/>
<line x1="113.00" y1="145.40" x2="113.00" y2="141.20" stroke="#404040" stroke-width="1.1"/>
<line x1="145.30" y1="145.40" x2="145.30" y2="141.20" stroke="#404040" stroke-width="1.1"/>
<line x1="186.09" y1="145.10" x2="186.09" y2="143.10" stroke="#404040" stroke-width="1.1"/>
<line x1="194.66" y1="145.10" x2="194.66" y2="143.10" stroke="#404040" stroke-width="1.1"/>
<line x1="203.23" y1="145.10" x2="203.23" y2="143.10" stroke="#404040" stroke-width="1.1"/>
<line x1="211.80" y1="145.10" x2="211.80" y2="142.10" stroke="#404040" stroke-width="1.1"/>
<line x1="220.37" y1="145.10" x2="220.37" y2="143.10" stroke="#404040" stroke-width="1.1"/>
<line x1="228.94" y1="145.10" x2="228.94" y2="143.10" stroke="#404040" stroke-width="1.1"/>
<line x1="237.51" y1="145.10" x2="237.51" y2="143.10" stroke="#404040" stroke-width="1.1"/>
<line x1="246.08" y1="145.10" x2="246.08" y2="143.10" stroke="#404040" stroke-width="1.1"/>
<line x1="254.65" y1="145.10" x2="254.65" y2="142.10" stroke="#404040" stroke-width="1.1"/>
<line x1="263.22" y1="145.10" x2="263.22" y2="143.10" stroke="#404040" stroke-width="1.1"/>
<line x1="271.79" y1="145.10" x2="271.79" y2="143.10" stroke="#404040" stroke-width="1.1"/>
<line x1="280.36" y1="145.10" x2="280.36" y2="143.10" stroke="#404040" stroke-width="1.1"/>
<line x1="288.93" y1="145.10" x2="288.93" y2="143.10" stroke="#404040" stroke-width="1.1"/>
<line x1="297.50" y1="145.10" x2="297.50" y2="142.10" stroke="#404040" stroke-width="1.1"/>
<line x1="306.07" y1="145.10" x2="306.07" y2="143.10" stroke="#404040" stroke-width="1.1"/>
<line x1="314.64" y1="145.10" x2="314.64" y2="143.10" stroke="#404040" stroke-width="1.1"/>
<line x1="323.21" y1="145.10" x2="323.21" y2="143.10" stroke="#404040" stroke-width="1.1"/>
<line x1="331.78" y1="145.10" x2="331.78" y2="143.10" stroke="#404040" stroke-width="1.1"/>
<line x1="20.68" y1="304.60" x2="20.68" y2="302.00" stroke="#404040" stroke-width="1.1"/>
<line x1="30.28" y1="304.60" x2="30.28" y2="302.00" stroke="#404040" stroke-width="1.1"/>
<line x1="39.89" y1="304.60" x2="39.89" y2="302.00" stroke="#404040" stroke-width="1.1"/>
<line x1="49.50" y1="304.60" x2="49.50" y2="300.40" stroke="#404040" stroke-width="1.1"/>
<line x1="59.11" y1="304.60" x2="59.11" y2="302.00" stroke="#404040" stroke-width="1.1"/>
<line x1="68.72" y1="304.60" x2="68.72" y2="302.00" stroke="#404040" stroke-width="1.1"/>
<line x1="78.32" y1="304.60" x2="78.32" y2="302.00" stroke="#404040" stroke-width="1.1"/>
<line x1="87.93" y1="304.60" x2="87.93" y2="300.40" stroke="#404040" stroke-width="1.1"/>
<line x1="97.54" y1="304.60" x2="97.54" y2="302.00" stroke="#404040" stroke-width="1.1"/>
<line x1="107.15" y1="304.60" x2="107.15" y2="302.00" stroke="#404040" stroke-width="1.1"/>
<line x1="116.76" y1="304.60" x2="116.76" y2="302.00" stroke="#404040" stroke-width="1.1"/>
<line x1="126.36" y1="304.60" x2="126.36" y2="300.40" stroke="#404040" stroke-width="1.1"/>
<line x1="135.97" y1="304.60" x2="135.97" y2="302.00" stroke="#404040" stroke-width="1.1"/>
<line x1="145.58" y1="304.60" x2="145.58" y2="302.00" stroke="#404040" stroke-width="1.1"/>
<line x1="155.19" y1="304.60" x2="155.19" y2="302.00" stroke="#404040" stroke-width="1.1"/>
<line x1="164.80" y1="304.60" x2="164.80" y2="300.40" stroke="#404040" stroke-width="1.1"/>
<line x1="180.08" y1="304.60" x2="180.08" y2="302.00" stroke="#404040" stroke-width="1.1"/>
<line x1="190.40" y1="304.60" x2="190.40" y2="300.40" stroke="#404040" stroke-width="1.1"/>
<line x1="200.72" y1="304.60" x2="200.72" y2="302.00" stroke="#404040" stroke-width="1.1"/>
<line x1="211.04" y1="304.60" x2="211.04" y2="300.40" stroke="#404040" stroke-width="1.1"/>
<line x1="221.36" y1="304.60" x2="221.36" y2="302.00" stroke="#404040" stroke-width="1.1"/>
<line x1="231.68" y1="304.60" x2="231.68" y2="300.40" stroke="#404040" stroke-width="1.1"/>
<line x1="242.00" y1="304.60" x2="242.00" y2="302.00" stroke="#404040" stroke-width="1.1"/>
<line x1="252.32" y1="304.60" x2="252.32" y2="300.40" stroke="#404040" stroke-width="1.1"/>
<line x1="262.64" y1="304.60" x2="262.64" y2="302.00" stroke="#404040" stroke-width="1.1"/>
<line x1="272.96" y1="304.60" x2="272.96" y2="300.40" stroke="#404040" stroke-width="1.1"/>
<line x1="283.28" y1="304.60" x2="283.28" y2="302.00" stroke="#404040" stroke-width="1.1"/>
<line x1="293.60" y1="304.60" x2="293.60" y2="300.40" stroke="#404040" stroke-width="1.1"/>
<line x1="303.92" y1="304.60" x2="303.92" y2="302.00" stroke="#404040" stroke-width="1.1"/>
<line x1="314.24" y1="304.60" x2="314.24" y2="300.40" stroke="#404040" stroke-width="1.1"/>
<line x1="324.56" y1="304.60" x2="324.56" y2="302.00" stroke="#404040" stroke-width="1.1"/>
<text x="48.50" y="157.60" font-size="10.35" text-anchor="middle" >910</text>
<text x="80.80" y="157.60" font-size="10.35" text-anchor="middle" >900</text>
<text x="113.00" y="157.60" font-size="10.35" text-anchor="middle" >890</text>
<text x="145.30" y="157.60" font-size="10.35" text-anchor="middle" >880</text>
<text x="211.30" y="157.60" font-size="10.35" text-anchor="middle" >890</text>
<text x="254.20" y="157.60" font-size="10.35" text-anchor="middle" >885</text>
<text x="297.10" y="157.60" font-size="10.35" text-anchor="middle" >880</text>
<text x="49.50" y="317.20" font-size="10.35" text-anchor="middle" >376</text>
<text x="87.90" y="317.20" font-size="10.35" text-anchor="middle" >372</text>
<text x="126.30" y="317.20" font-size="10.35" text-anchor="middle" >368</text>
<text x="164.80" y="317.20" font-size="10.35" text-anchor="middle" >364</text>
<text x="190.40" y="317.20" font-size="10.35" text-anchor="middle" >32</text>
<text x="231.80" y="317.20" font-size="10.35" text-anchor="middle" >30</text>
<text x="273.00" y="317.20" font-size="10.35" text-anchor="middle" >28</text>
<text x="314.30" y="317.20" font-size="10.35" text-anchor="middle" >26</text>
<text x="53.33" y="330.80" font-size="10.47" >binding energy (eV)</text>
<text x="214.43" y="330.80" font-size="10.47" >binding energy (eV)</text>
<text transform="translate(10.3,73.0) rotate(-90)" font-size="10.45" text-anchor="middle">intensity (arb.units)</text>
<text transform="translate(10.3,232.4) rotate(-90)" font-size="10.45" text-anchor="middle">intensity (arb.units)</text>
<text x="25.85" y="16.80" font-size="12.80" >Ce 3d</text>
<text x="26.61" y="37.20" font-size="12.80" >(a)</text>
<text x="28.18" y="175.20" font-size="12.80" >Ag 3d</text>
<text x="28.81" y="198.40" font-size="12.80" >(c)</text>
<text x="189.86" y="175.30" font-size="12.80" >Ge 3d</text>
<text x="185.61" y="198.80" font-size="12.80" >(d)</text>
<text x="184.65" y="16.80" font-size="12.80" >Ce 3d</text>
<text x="218.06" y="19.70" font-size="8.40" textLength="13.26" lengthAdjust="spacingAndGlyphs" >5/2</text>
<text x="186.21" y="34.20" font-size="12.80" >(b)</text>
<text x="190.87" y="51.10" font-size="11.30" >300 K</text>
<text x="190.54" y="117.50" font-size="11.30" >15 K</text>
<text x="209.50" y="222.00" font-size="10.50" >15 K</text>
<text x="209.90" y="233.20" font-size="10.50" >300 K</text>
<text x="44.62" y="59.70" font-size="10.00" >3d</text>
<text x="55.60" y="62.20" font-size="8.00" textLength="10.57" lengthAdjust="spacingAndGlyphs" >3/2</text>
<text x="141.52" y="15.20" font-size="10.00" >3d</text>
<text x="152.98" y="17.70" font-size="8.00" textLength="10.59" lengthAdjust="spacingAndGlyphs" >5/2</text>
<text x="86.76" y="50.50" font-size="9.70" >18.6 eV</text>
<text x="33.47" y="117.90" font-size="11.00" >m</text>
<text x="62.52" y="199.90" font-size="10.00" >3d</text>
<text x="73.70" y="202.40" font-size="8.00" textLength="10.57" lengthAdjust="spacingAndGlyphs" >3/2</text>
<text x="139.82" y="174.40" font-size="10.00" >3d</text>
<text x="150.68" y="176.90" font-size="8.00" textLength="10.59" lengthAdjust="spacingAndGlyphs" >5/2</text>
<text x="251.46" y="44.80" font-size="10.20" stroke="#111" stroke-width="0.35">f</text>
<text x="255.07" y="37.80" font-size="7.00" >1</text>
<text x="304.96" y="42.60" font-size="9.60" stroke="#111" stroke-width="0.3">f</text>
<text x="307.50" y="36.00" font-size="7.90" >2</text>
<text x="257.06" y="120.80" font-size="10.20" stroke="#111" stroke-width="0.35">f</text>
<text x="260.30" y="114.10" font-size="6.60" >1</text>
<text x="311.77" y="130.90" font-size="9.20" stroke="#111" stroke-width="0.3">f</text>
<text x="314.19" y="125.10" font-size="8.20" >2</text>
</svg>
</body></html>
